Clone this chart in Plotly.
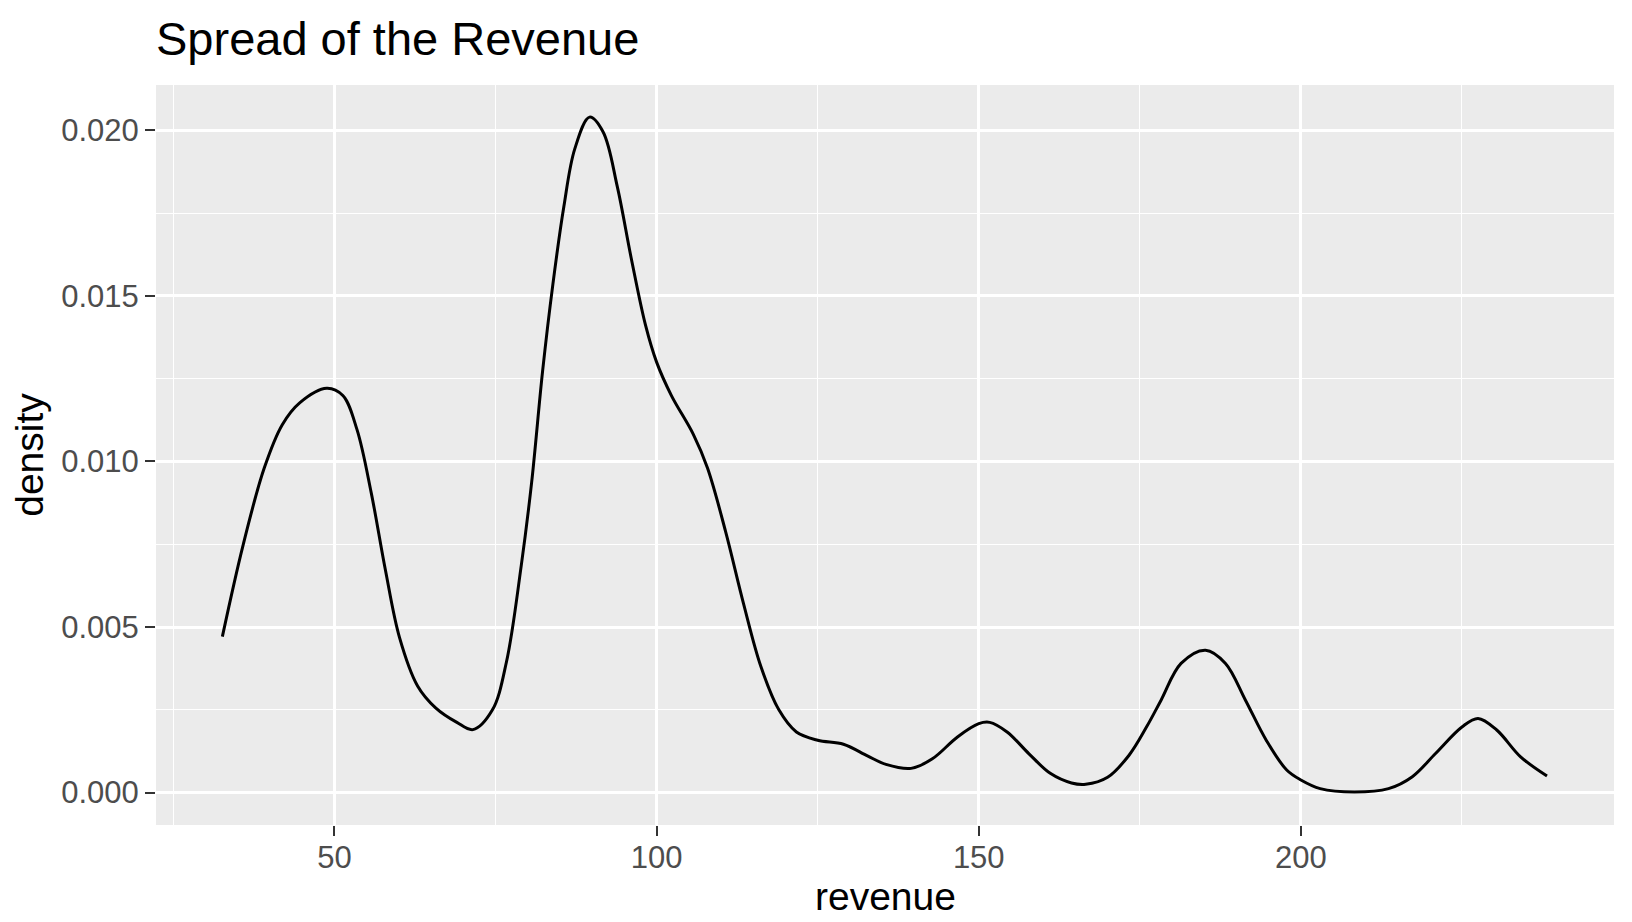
import plotly.graph_objects as go

# density curve (revenue, density)
revenue = [32.6, 35.8, 39.1, 41.9, 44.6, 48.8, 51.3, 53.5, 55.7, 57.9, 60.1, 62.9,
           65.7, 69.0, 71.5, 74.5, 76.7, 79.0, 80.6, 82.3, 83.9, 85.6, 87.3, 89.6,
           91.7, 93.9, 96.1, 98.3, 100.0, 102.3, 105.7, 107.9, 110.7, 113.5, 116.2,
           119.0, 121.7, 125.0, 129.0, 132.8, 135.6, 139.5, 142.8, 146.7, 150.0,
           151.7, 154.4, 157.8, 161.1, 164.4, 166.6, 170.0, 173.3, 176.1, 178.3,
           181.4, 185.2, 188.3, 191.4, 194.6, 197.8, 200.0, 203.0, 208.3, 213.6,
           217.3, 220.9, 225.0, 227.5, 230.4, 234.1, 238.2]
density = [0.00471, 0.00746, 0.00980, 0.01111, 0.01177, 0.01221, 0.01199, 0.01096,
           0.00906, 0.00673, 0.00468, 0.00322, 0.00256, 0.00212, 0.00190, 0.00249,
           0.00395, 0.00687, 0.00936, 0.01272, 0.01535, 0.01769, 0.01944, 0.02040,
           0.01995, 0.01830, 0.01610, 0.01410, 0.01300, 0.01199, 0.01082, 0.00980,
           0.00789, 0.00570, 0.00380, 0.00249, 0.00183, 0.00158, 0.00146, 0.00110,
           0.00085, 0.00073, 0.00102, 0.00168, 0.00208, 0.00212, 0.00183, 0.00117,
           0.00058, 0.00029, 0.00025, 0.00046, 0.00112, 0.00200, 0.00279, 0.00390,
           0.00430, 0.00390, 0.00279, 0.00159, 0.00068, 0.00038, 0.00012, 0.00002,
           0.00012, 0.00048, 0.00118, 0.00198, 0.00224, 0.00189, 0.00108, 0.00050]

x_ticks = [50, 100, 150, 200]
y_ticks = [0.0, 0.005, 0.010, 0.015, 0.020]
y_labels = ["0.000", "0.005", "0.010", "0.015", "0.020"]

FONT = "Liberation Sans, Arial, Helvetica, sans-serif"

# the page body adds 8px around the figure, so the figure is 16px smaller
W, H = 1616, 906

fig = go.Figure()
fig.add_trace(go.Scatter(
    x=revenue, y=density, mode="lines",
    line=dict(color="black", width=3, shape="spline", smoothing=1.0),
    showlegend=False, hoverinfo="x+y",
))

axis_common = dict(
    showgrid=True, gridcolor="white", gridwidth=2.5,
    zeroline=False, showline=False, automargin=False,
    ticks="outside", ticklen=10, tickwidth=2, tickcolor="#333333",
    tickfont=dict(family=FONT, size=31, color="#4D4D4D"),
)

fig.update_layout(
    width=W, height=H,
    paper_bgcolor="white", plot_bgcolor="#EBEBEB",
    margin=dict(l=148, r=10, t=77, b=89),
    font=dict(family=FONT),
    title=dict(text="Spread of the Revenue", x=148/W, xref="container",
               xanchor="left", y=1 - 30.5/H, yref="container", yanchor="middle",
               font=dict(family=FONT, size=47, color="black")),
    xaxis=dict(axis_common, range=[22.3, 248.6], tickvals=x_ticks,
               ticktext=[str(v) for v in x_ticks], ticklabelstandoff=-5,
               minor=dict(dtick=25, tick0=0, showgrid=True, gridcolor="white", gridwidth=1.2, ticks="")),
    yaxis=dict(axis_common, range=[-0.00098, 0.02137], tickvals=y_ticks,
               ticktext=y_labels,
               minor=dict(dtick=0.0025, tick0=0, showgrid=True, gridcolor="white", gridwidth=1.2, ticks=""),
               title=dict(text="density", standoff=10,
                          font=dict(family=FONT, size=39, color="black"))),
)

# x axis title as an annotation: the built-in one is clamped inside the margin
fig.add_annotation(text="revenue", xref="paper", yref="paper", x=0.5, y=0,
                   xanchor="center", yanchor="middle", yshift=-71, showarrow=False,
                   font=dict(family=FONT, size=39, color="black"))

fig.write_html("out.html")
